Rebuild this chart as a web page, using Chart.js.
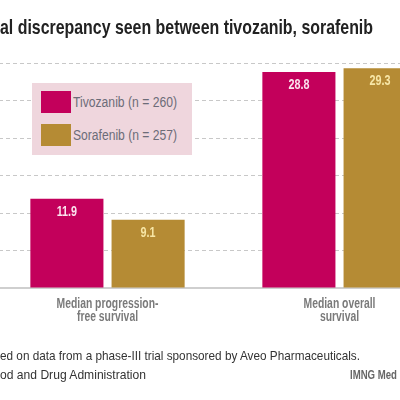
<!DOCTYPE html>
<html>
<head>
<meta charset="utf-8">
<script src="https://cdn.jsdelivr.net/npm/chart.js@4"></script>
<style>
  html, body { margin:0; padding:0; background:#fff; overflow:hidden; width:400px; height:400px; }
  #wrap { position:absolute; left:-20px; top:0; width:500px; height:400px; }
  .txt { position:absolute; white-space:nowrap; font-family:"Liberation Sans", Arial, sans-serif; transform-origin:0 50%; }
  #title { left:0; top:15px; font-size:21px; font-weight:bold; color:#222; }
  #legend { position:absolute; left:32px; top:83px; width:160px; height:72px; background:#efd6dd; }
  .sw { position:absolute; left:9px; width:30px; height:22px; }
  .lgt { left:41px; font-size:14px; color:#6c6c78; line-height:22px; height:22px; }
  #note1 { left:0; top:348px; font-size:13px; color:#333; }
  #note2 { left:0; top:367px; font-size:13px; color:#333; }
  #credit { left:350px; top:368px; font-size:12px; font-weight:bold; color:#666; }
</style>
</head>
<body>
<div id="wrap"><canvas id="c"></canvas></div>
<div id="title" class="txt" data-w="373">al discrepancy seen between tivozanib, sorafenib</div>
<div id="legend"></div>
<div id="note1" class="txt" data-w="360">ed on data from a phase-III trial sponsored by Aveo Pharmaceuticals.</div>
<div id="note2" class="txt" data-w="146">od and Drug Administration</div>
<div id="credit" class="txt" data-s="0.8">IMNG Med</div>
<script>
const categories = [["Median progression-", "free survival"], ["Median overall", "survival"]];
const seriesNames = ["Tivozanib (n = 260)", "Sorafenib (n = 257)"];
const tivozanib = [11.9, 28.8];
const sorafenib = [9.1, 29.3];
const yTicks = [0, 5, 10, 15, 20, 25, 30];

const colors = ["#c3005b", "#b58b34"];
const labelColors = ["#fbe3ee", "#f7e6a6"];
const CONDENSE = 0.78;

// legend
const lg = document.getElementById('legend');
seriesNames.forEach((n, i) => {
  const sw = document.createElement('div');
  sw.className = 'sw';
  sw.style.top = (8 + i * 33) + 'px';
  sw.style.background = colors[i];
  lg.appendChild(sw);
  const t = document.createElement('div');
  t.className = 'txt lgt';
  t.style.top = (8 + i * 33) + 'px';
  t.dataset.w = "104";
  t.textContent = n;
  lg.appendChild(t);
});

function fitTexts() {
  document.querySelectorAll('.txt').forEach(el => {
    el.style.transform = 'none';
    const w = el.getBoundingClientRect().width;
    let s = CONDENSE;
    if (el.dataset.w) s = parseFloat(el.dataset.w) / w;
    else if (el.dataset.s) s = parseFloat(el.dataset.s);
    el.style.transform = 'scaleX(' + s + ')';
  });
}
fitTexts();

function condensedText(ctx, text, x, y, scale) {
  ctx.save();
  ctx.translate(x, y);
  ctx.scale(scale, 1);
  ctx.fillText(text, 0, 0);
  ctx.restore();
}

const valueLabels = {
  id: 'valueLabels',
  afterDatasetsDraw(chart) {
    const ctx = chart.ctx;
    ctx.save();
    ctx.font = 'bold 15px "Liberation Sans", sans-serif';
    ctx.textAlign = 'center';
    ctx.textBaseline = 'middle';
    chart.data.datasets.forEach((ds, di) => {
      const meta = chart.getDatasetMeta(di);
      meta.data.forEach((bar, i) => {
        ctx.fillStyle = labelColors[di];
        condensedText(ctx, ds.data[i].toFixed(1), bar.x, bar.y + 13, 0.72);
      });
    });
    // category labels drawn at the x scale's tick positions
    const xs = chart.scales.x;
    ctx.font = 'bold 14px "Liberation Sans", sans-serif';
    ctx.fillStyle = '#7a7a7a';
    chart.data.labels.forEach((lab, i) => {
      const px = xs.getPixelForTick(i);
      lab.forEach((line, j) => {
        condensedText(ctx, line, px, xs.top + 16 + j * 13.5, 0.74);
      });
    });
    ctx.restore();
  }
};

new Chart(document.getElementById('c'), {
  type: 'bar',
  data: {
    labels: categories,
    datasets: [
      { label: seriesNames[0], data: tivozanib, backgroundColor: colors[0], categoryPercentage: 0.7, barPercentage: 0.9 },
      { label: seriesNames[1], data: sorafenib, backgroundColor: colors[1], categoryPercentage: 0.7, barPercentage: 0.9 }
    ]
  },
  options: {
    responsive: true,
    maintainAspectRatio: false,
    animation: false,
    layout: { padding: { left: 11.5, right: 24.5, top: 63, bottom: 0 } },
    plugins: { legend: { display: false }, tooltip: { enabled: false } },
    scales: {
      x: {
        grid: { display: false, drawTicks: false },
        border: { display: true, color: '#cfcfcf', width: 2 },
        ticks: { display: false },
        afterFit(s) { s.height = 112; }
      },
      y: {
        min: yTicks[0], max: yTicks[yTicks.length - 1],
        afterBuildTicks(s) { s.ticks = yTicks.map(v => ({ value: v })); },
        ticks: { display: false },
        grid: { drawTicks: false, color: (c) => c.tick && c.tick.value === 0 ? 'rgba(0,0,0,0)' : '#c8c8c8', lineWidth: 1 },
        border: { display: false, dash: [4, 3] },
        afterFit(s) { s.width = 0; }
      }
    }
  },
  plugins: [valueLabels]
});
</script>
</body>
</html>
